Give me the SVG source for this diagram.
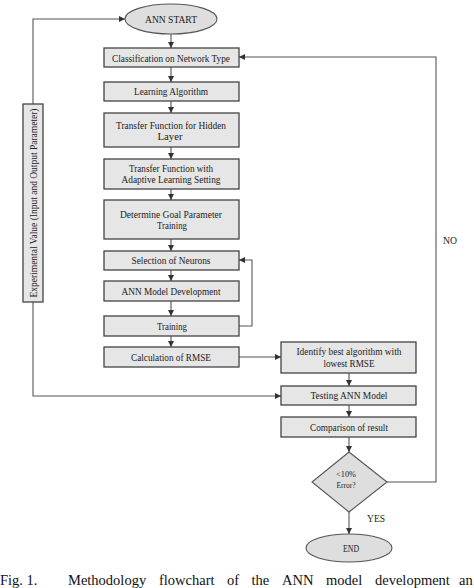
<svg xmlns="http://www.w3.org/2000/svg" width="474" height="588" viewBox="0 0 474 588">
<defs>
<marker id="ah" markerUnits="userSpaceOnUse" markerWidth="6" markerHeight="6" refX="6" refY="3" orient="auto">
<path d="M0,0 L6,3 L0,6 z" fill="#333"/>
</marker>
<style>
.box{fill:#e6e6e6;stroke:#444;stroke-width:1.3}
.term{fill:#dedede;stroke:#555;stroke-width:1.1}
.t{font-family:"Liberation Serif","Times New Roman",serif;font-size:11px;fill:#222;text-anchor:middle}
.s{font-size:9px}
.cap{font-family:"Liberation Serif","Times New Roman",serif;font-size:14.5px;fill:#111}
.c{fill:none;stroke:#555;stroke-width:1.1}
.ca{fill:none;stroke:#555;stroke-width:1.1;marker-end:url(#ah)}
</style>
</defs>
<rect width="474" height="588" fill="#fff"/>

<g id="connectors">
<path class="ca" d="M171,34 V48"/>
<path class="ca" d="M171,67 V82"/>
<path class="ca" d="M171,101 V113"/>
<path class="ca" d="M171,147 V159"/>
<path class="ca" d="M171,189 V200"/>
<path class="ca" d="M171,239 V251"/>
<path class="ca" d="M171,270 V281"/>
<path class="ca" d="M171,301 V316"/>
<path class="ca" d="M171,336 V347"/>
<path class="ca" d="M239,326 H252 V260 H239"/>
<path class="ca" d="M239,357 H281"/>
<path class="ca" d="M349,373 V386"/>
<path class="ca" d="M349,405 V417"/>
<path class="ca" d="M349,437 V452"/>
<path class="ca" d="M349,512 V534"/>
<path class="ca" d="M387,482 H436 V57 H239"/>
<path class="ca" d="M33,104 V19 H125"/>
<path class="ca" d="M33,302 V396 H281"/>
</g>

<g id="start">
<ellipse class="term" cx="171" cy="19" rx="46" ry="15"/>
<text class="t" x="171" y="23" textLength="52" lengthAdjust="spacingAndGlyphs">ANN START</text>
</g>
<g id="classification">
<rect class="box" x="104" y="48" width="135" height="19"/>
<text class="t" x="171" y="62" textLength="118" lengthAdjust="spacingAndGlyphs">Classification on Network Type</text>
</g>
<g id="learning">
<rect class="box" x="104" y="82" width="135" height="19"/>
<text class="t" x="171" y="95" textLength="74" lengthAdjust="spacingAndGlyphs">Learning Algorithm</text>
</g>
<g id="tf-hidden">
<rect class="box" x="104" y="113" width="135" height="34"/>
<text class="t" x="171" y="129" textLength="110" lengthAdjust="spacingAndGlyphs">Transfer Function for Hidden</text>
<text class="t" x="170" y="139.5" textLength="25" lengthAdjust="spacingAndGlyphs">Layer</text>
</g>
<g id="tf-adaptive">
<rect class="box" x="104" y="159" width="135" height="30"/>
<text class="t" x="171" y="172" textLength="84" lengthAdjust="spacingAndGlyphs">Transfer Function with</text>
<text class="t" x="171" y="183" textLength="99" lengthAdjust="spacingAndGlyphs">Adaptive Learning Setting</text>
</g>
<g id="goal">
<rect class="box" x="104" y="200" width="135" height="39"/>
<text class="t" x="171" y="218" textLength="102" lengthAdjust="spacingAndGlyphs">Determine Goal Parameter</text>
<text class="t" x="172" y="229" textLength="30" lengthAdjust="spacingAndGlyphs">Training</text>
</g>
<g id="neurons">
<rect class="box" x="104" y="251" width="135" height="19"/>
<text class="t" x="171" y="264" textLength="79" lengthAdjust="spacingAndGlyphs">Selection of Neurons</text>
</g>
<g id="model-dev">
<rect class="box" x="104" y="281" width="135" height="20"/>
<text class="t" x="171" y="295" textLength="99" lengthAdjust="spacingAndGlyphs">ANN Model Development</text>
</g>
<g id="training">
<rect class="box" x="104" y="316" width="135" height="20"/>
<text class="t" x="172" y="330" textLength="30" lengthAdjust="spacingAndGlyphs">Training</text>
</g>
<g id="rmse">
<rect class="box" x="104" y="347" width="135" height="20"/>
<text class="t" x="171" y="361" textLength="80" lengthAdjust="spacingAndGlyphs">Calculation of RMSE</text>
</g>
<g id="identify">
<rect class="box" x="281" y="342" width="135" height="31"/>
<text class="t" x="349" y="355" textLength="105" lengthAdjust="spacingAndGlyphs">Identify best algorithm with</text>
<text class="t" x="349" y="367" textLength="51" lengthAdjust="spacingAndGlyphs">lowest RMSE</text>
</g>
<g id="testing">
<rect class="box" x="281" y="386" width="135" height="19"/>
<text class="t" x="349" y="399" textLength="77" lengthAdjust="spacingAndGlyphs">Testing ANN Model</text>
</g>
<g id="comparison">
<rect class="box" x="281" y="417" width="135" height="20"/>
<text class="t" x="349" y="431" textLength="78" lengthAdjust="spacingAndGlyphs">Comparison of result</text>
</g>
<g id="decision">
<path class="term" d="M349,452 L387,482 L349,512 L312,482 z"/>
<text class="t s" x="346" y="477" textLength="20" lengthAdjust="spacingAndGlyphs">&lt;10%</text>
<text class="t s" x="346" y="488" textLength="19" lengthAdjust="spacingAndGlyphs">Error?</text>
</g>
<g id="end">
<ellipse class="term" cx="349" cy="548" rx="43" ry="14"/>
<text class="t" x="351" y="552" textLength="16" lengthAdjust="spacingAndGlyphs">END</text>
</g>
<g id="experimental">
<rect class="box" x="23" y="104" width="20" height="198"/>
<text class="t" transform="translate(37,203) rotate(-90)" x="0" y="0" textLength="189" lengthAdjust="spacingAndGlyphs">Experimental Value (Input and Output Parameter)</text>
</g>
<g id="labels">
<text class="t" x="376" y="522" style="font-size:10px" textLength="18" lengthAdjust="spacingAndGlyphs">YES</text>
<text class="t" x="450" y="244" style="font-size:10px" textLength="14" lengthAdjust="spacingAndGlyphs">NO</text>
</g>
<g id="caption">
<text class="cap" x="0" y="585">Fig. 1.</text>
<text class="cap" x="68" y="585">Methodology</text>
<text class="cap" x="159" y="585">flowchart</text>
<text class="cap" x="227" y="585">of</text>
<text class="cap" x="251.5" y="585">the</text>
<text class="cap" x="282" y="585">ANN</text>
<text class="cap" x="326" y="585">model</text>
<text class="cap" x="375" y="585">development</text>
<text class="cap" x="459" y="585">an</text>
</g>
</svg>
